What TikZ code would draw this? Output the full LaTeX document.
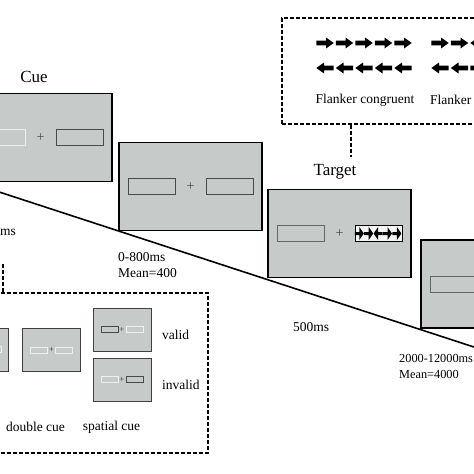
\documentclass[tikz,border=0pt]{standalone}
\usepackage{fontspec}
\setmainfont{Liberation Serif}
\usetikzlibrary{positioning}
\definecolor{scrgray}{HTML}{C6CBCA}
\definecolor{framedark}{HTML}{4A4A4A}
\definecolor{framelight}{HTML}{EEF0EF}
\tikzset{
      screen/.style={ % Sets the properties for each large screen
      draw, line width=1.8pt, fill=scrgray,
      minimum width=143pt, minimum height=88pt, inner sep=0pt},
      miniscreen/.style={ % Small screens inside the cue panel
      draw=black!75, line width=1pt, fill=scrgray,
      minimum width=58pt, minimum height=43pt, inner sep=0pt},
      frame/.style={draw=#1, line width=0.8pt, minimum width=47pt, minimum height=16pt, inner sep=0pt},
      miniframe/.style={draw=#1, line width=1pt, minimum width=17pt, minimum height=6pt, inner sep=0pt},
      dashbox/.style={draw, line width=1.1pt, dash pattern=on 4pt off 2pt, inner sep=0pt},
      dashline/.style={draw, line width=1.1pt, dash pattern=on 4pt off 2pt},
      bigtxt/.style={font=\fontsize{17}{17}\selectfont, inner sep=0pt},
      txt/.style={font=\fontsize{13.5}{16}\selectfont, inner sep=0pt},
      plus/.style={font=\fontsize{14}{14}\selectfont, text=black!70, inner sep=0pt},
      miniplus/.style={font=\fontsize{9}{9}\selectfont, text=black!80, inner sep=0pt},
      flank/.pic={ % Block arrow of the flanker rows
      \fill (-8.7,-2.3) -- (1,-2.3) -- (1,-5.5) -- (8.7,0) -- (1,5.5) -- (1,2.3) -- (-8.7,2.3) -- cycle;},
      tflank/.pic={ % Small arrow inside the target frame
      \fill (-4.5,-1.5) -- (0,-1.5) -- (0,-6.5) -- (4.5,0) -- (0,6.5) -- (0,1.5) -- (-4.5,1.5) -- cycle;}}

\begin{document}
\begin{tikzpicture}[x=1pt, y=-1pt]
      \useasboundingbox (0,0) rectangle (474,474);
      \clip (0,0) rectangle (474,474);
      % time line
      \coordinate (tstart) at (-10,189);
      \coordinate (tend) at (480,349);
      \draw[line width=1.6pt] (tstart) -- (tend);
      % screens
      \node[screen] (cue) at (40.5,137.5) {};
      \node[screen] (fix) at (190.5,186.5) {};
      \node[screen] (target) at (339.5,233.5) {};
      \node[screen] (blank) at (492.5,284) {};
      \node[frame=framelight] (cueL) at ([xshift=-39pt]cue.center) {};
      \node[frame=framedark] (cueR) at ([xshift=39pt]cue.center) {};
      \node[plus] at (cue.center) {+};
      \node[frame=framedark] (fixL) at ([xshift=-39pt]fix.center) {};
      \node[frame=framedark] (fixR) at ([xshift=39pt]fix.center) {};
      \node[plus] at (fix.center) {+};
      \node[frame=black!60] (tarL) at ([xshift=-39pt]target.center) {};
      \node[frame=black, fill=white!80!scrgray] (tarR) at ([xshift=39pt]target.center) {};
      \node[plus] at (target.center) {+};
      \foreach \i/\s in {0/1,1/1,2/-1,3/1,4/1}
            \path (tarR.west) ++({4.7+9.4*\i},0) pic[xscale=\s] {tflank};
      \node[frame=black!60] (blankL) at ([xshift=-39pt]blank.center) {};
      % labels
      \node[bigtxt] (cuelab) at (34,77) {Cue};
      \node[bigtxt] (tarlab) at (335,172) {Target};
      \node[txt, anchor=west] (t1) at (0,232) {ms};
      \node[txt, anchor=west, align=left] (t2) at (118,265) {0-800ms\\Mean=400};
      \node[txt] (t3) at (311,327) {500ms};
      \node[txt, font=\fontsize{12.3}{16}\selectfont, anchor=west, align=left] (t4) at (399,366.5) {2000-12000ms\\Mean=4000};
      % flanker panel
      \node[dashbox, minimum width=208pt, minimum height=106pt] (flankbox) at (386,71) {};
      \foreach \i in {0,...,4} {
            \pic at ({325+19.5*\i},43) {flank};
            \pic[xscale=-1] at ({325+19.5*\i},68) {flank};}
      \foreach \i/\s in {0/1,1/1,2/-1,3/1,4/1} {
            \pic[xscale=\s] at ({440+19.5*\i},43) {flank};
            \pic[xscale=-\s] at ({440+19.5*\i},68) {flank};}
      \node[txt] (congr) at (365,100) {Flanker congruent};
      \node[txt, anchor=west] (incongr) at (430,100) {Flanker};
      \coordinate (flankend) at (351,157);
      \draw[dashline] (flankbox.south -| flankend) -- (flankend);
      % cue panel
      \node[dashbox, minimum width=213pt, minimum height=160pt] (cuebox) at (101.5,373) {};
      \coordinate (cueend) at (3,263);
      \draw[dashline] (cuebox.north -| cueend) -- (cueend);
      \node[miniscreen] (nocue) at (-21,349.5) {};
      \node[miniframe=framelight] at ([xshift=14pt]nocue.center) {};
      \node[miniscreen] (double) at (51.5,350) {};
      \node[miniframe=framelight] at ([xshift=-12.5pt]double.center) {};
      \node[miniframe=framelight] at ([xshift=12.5pt]double.center) {};
      \node[miniplus] at (double.center) {+};
      \node[miniscreen] (valid) at (122,329.5) {};
      \node[miniframe=framedark] at ([xshift=-12.5pt]valid.center) {};
      \node[miniframe=framelight] at ([xshift=12.5pt]valid.center) {};
      \node[miniplus] at (valid.center) {+};
      \node[miniscreen] (invalid) at (122,379.5) {};
      \node[miniframe=framelight] at ([xshift=-12.5pt]invalid.center) {};
      \node[miniframe=framedark] at ([xshift=12.5pt]invalid.center) {};
      \node[miniplus] at (invalid.center) {+};
      \node[txt, anchor=west] (vlab) at (162,335) {valid};
      \node[txt, anchor=west] (ilab) at (162,385) {invalid};
      \node[txt] (dlab) at (35.5,427) {double cue};
      \node[txt] (slab) at (111.5,427) {spatial cue};
\end{tikzpicture}
\end{document}
